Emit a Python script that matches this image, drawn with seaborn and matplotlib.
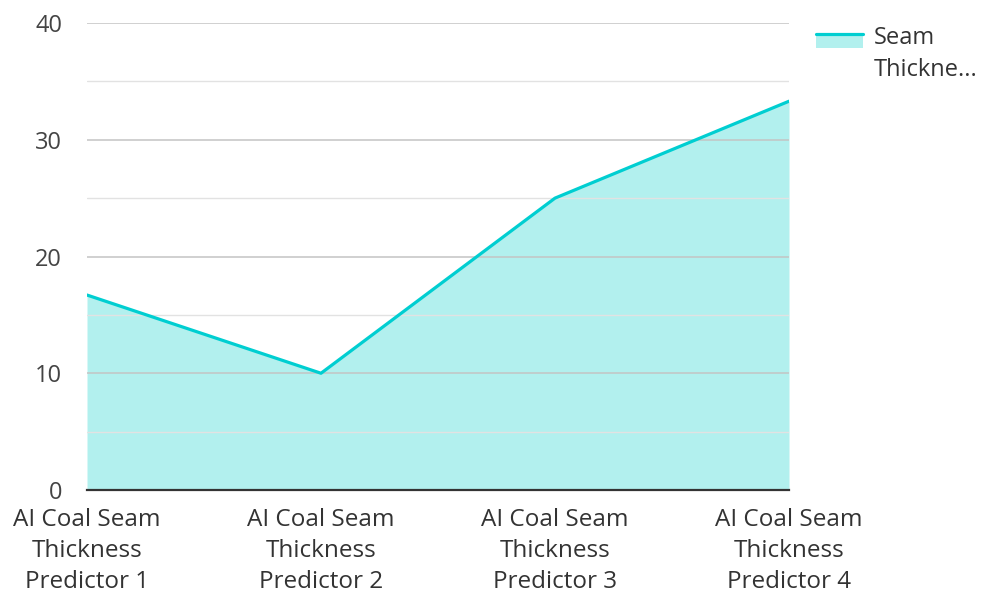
import matplotlib
matplotlib.use("Agg")
import matplotlib.pyplot as plt
import seaborn as sns
import pandas as pd
from matplotlib.patches import Rectangle
from matplotlib.lines import Line2D
from matplotlib.legend_handler import HandlerBase
from matplotlib.ticker import MultipleLocator

categories = [
    "AI Coal Seam\nThickness\nPredictor 1",
    "AI Coal Seam\nThickness\nPredictor 2",
    "AI Coal Seam\nThickness\nPredictor 3",
    "AI Coal Seam\nThickness\nPredictor 4",
]
seam_thickness = [16.7, 10.0, 25.0, 33.3]
series_name = "Seam\nThickne..."

line_color = "#00CED1"
fill_color = "#B2F0EE"

sns.set_theme(style="white")
plt.rcParams["font.family"] = ["Open Sans", "DejaVu Sans"]

df = pd.DataFrame({"pos": range(len(categories)), "value": seam_thickness})

fig = plt.figure(figsize=(9.86, 5.94), dpi=100)
ax = fig.add_axes([87 / 986, 1 - 490 / 594, (789 - 87) / 986, (490 - 23) / 594])

ax.fill_between(df["pos"], 0, df["value"], color=fill_color, linewidth=0, zorder=1)
sns.lineplot(data=df, x="pos", y="value", color=line_color, linewidth=2.3, ax=ax, zorder=3)

ax.set_xlim(0, len(categories) - 1)
ax.set_ylim(0, 40)
ax.yaxis.set_major_locator(MultipleLocator(10))
ax.yaxis.set_minor_locator(MultipleLocator(5))
ax.grid(True, which="major", axis="y", color="#c4c4c4", linewidth=1.1, zorder=2)
ax.grid(True, which="minor", axis="y", color="#e2e2e2", linewidth=1.0, zorder=2)
ax.set_axisbelow(False)

ax.set_xticks(df["pos"])
ax.set_xticklabels(categories, linespacing=1.4)
ax.set_xlabel("")
ax.set_ylabel("")
ax.tick_params(axis="x", length=0, pad=13, labelsize=17.5, labelcolor="#333333")
ax.tick_params(axis="y", which="both", length=0, pad=18, labelsize=17, labelcolor="#444444")

for side in ("top", "right", "left"):
    ax.spines[side].set_visible(False)
ax.spines["bottom"].set_color("#333333")
ax.spines["bottom"].set_linewidth(1.6)
ax.spines["bottom"].set_zorder(4)


class AreaHandler(HandlerBase):
    """Light area swatch with the series line along its top, level with the first text line."""

    def create_artists(self, legend, orig_handle, xdescent, ydescent,
                       width, height, fontsize, trans):
        lift = 0.6 * fontsize
        y0 = -ydescent + lift
        rect = Rectangle((-xdescent, y0), width, height,
                         facecolor=fill_color, edgecolor="none", transform=trans)
        top = Line2D([-xdescent, -xdescent + width], [y0 + height, y0 + height],
                     color=line_color, linewidth=2.3, transform=trans)
        return [rect, top]


handle = Rectangle((0, 0), 1, 1)
leg = fig.legend([handle], [series_name], handler_map={Rectangle: AreaHandler()},
                 loc="upper left", bbox_to_anchor=(795 / 986, 1 - 5 / 594),
                 frameon=False, fontsize=17, handlelength=2.0, handleheight=0.55,
                 handletextpad=0.45, labelcolor="#333333")
for t in leg.get_texts():
    t.set_linespacing(1.45)

fig.savefig("out.png", dpi=100)
